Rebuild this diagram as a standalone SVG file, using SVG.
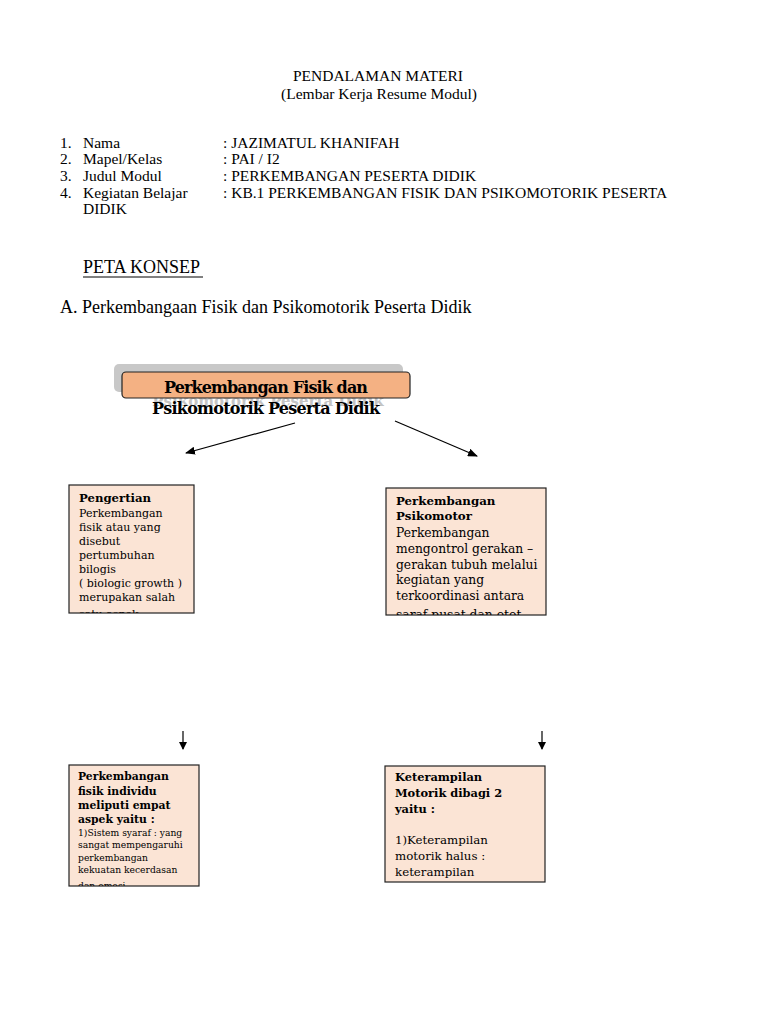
<svg xmlns="http://www.w3.org/2000/svg" width="768" height="1024" viewBox="0 0 768 1024">
<style>
.t{font-family:"Liberation Serif","Times New Roman",serif;font-size:15.5px;fill:#000}
.h{font-family:"Liberation Serif","Times New Roman",serif;font-size:18px;fill:#000}
.c{font-family:"DejaVu Serif","Liberation Serif",serif;fill:#000}
.b{font-weight:bold}
.box{fill:#FBE4D5;stroke:#222;stroke-width:1.2}
.ln{stroke:#000;stroke-width:1.2;fill:none}
</style>
<defs>
<marker id="ah" markerWidth="10" markerHeight="8" refX="9" refY="4" orient="auto" markerUnits="userSpaceOnUse">
<path d="M0,0 L10,4 L0,8 Z" fill="#000"/>
</marker>
<marker id="ahd" markerWidth="8" markerHeight="9" refX="7" refY="4" orient="auto" markerUnits="userSpaceOnUse">
<path d="M0,0 L8,4 L0,8 Z" fill="#000"/>
</marker>
<clipPath id="c1"><rect x="69" y="485" width="125" height="128"/></clipPath>
<clipPath id="c2"><rect x="386" y="488" width="160" height="127"/></clipPath>
<clipPath id="c3"><rect x="69" y="765" width="130" height="121"/></clipPath>
<clipPath id="c4"><rect x="385" y="766" width="160" height="116"/></clipPath>
</defs>
<rect width="768" height="1024" fill="#fff"/>
<g id="header">
<text class="t" x="378" y="81" text-anchor="middle">PENDALAMAN MATERI</text>
<text class="t" x="379" y="99" text-anchor="middle">(Lembar Kerja Resume Modul)</text>
<text class="t" x="60" y="148">1.</text><text class="t" x="83" y="148">Nama</text><text class="t" x="223" y="148">: JAZIMATUL KHANIFAH</text>
<text class="t" x="60" y="164">2.</text><text class="t" x="83" y="164">Mapel/Kelas</text><text class="t" x="223" y="164">: PAI / I2</text>
<text class="t" x="60" y="181">3.</text><text class="t" x="83" y="181">Judul Modul</text><text class="t" x="223" y="181">: PERKEMBANGAN PESERTA DIDIK</text>
<text class="t" x="60" y="198">4.</text><text class="t" x="83" y="198">Kegiatan Belajar</text><text class="t" x="223" y="198">: KB.1 PERKEMBANGAN FISIK DAN PSIKOMOTORIK PESERTA</text>
<text class="t" x="83" y="214">DIDIK</text>
<text class="h" x="83" y="273">PETA KONSEP</text>
<line x1="83" y1="277" x2="203" y2="277" stroke="#000" stroke-width="1"/>
<text class="h" x="60" y="313">A. Perkembangaan Fisik dan Psikomotorik Peserta Didik</text>
</g>
<g id="root">
<rect x="114" y="364" width="289" height="28" rx="5" fill="#c8c8c8"/>
<text class="c b" x="268" y="406" font-size="15" text-anchor="middle" style="fill:#c4c4c4">Psikomotorik Peserta Didik</text>
<rect x="122" y="372" width="288" height="26" rx="4" fill="#F4B183" stroke="#222" stroke-width="1.2"/>
<text class="c b" x="266" y="393" font-size="16" text-anchor="middle" textLength="204">Perkembangan Fisik dan</text>
<text class="c b" x="266" y="414" font-size="16" text-anchor="middle" textLength="228">Psikomotorik Peserta Didik</text>
</g>
<g id="connectors">
<line class="ln" x1="295" y1="423" x2="186" y2="453" marker-end="url(#ah)"/>
<line class="ln" x1="395" y1="421" x2="477" y2="456" marker-end="url(#ah)"/>
<line class="ln" x1="183" y1="731" x2="183" y2="749" stroke-width="2.2" marker-end="url(#ahd)"/>
<line class="ln" x1="542" y1="731" x2="542" y2="749" stroke-width="2.2" marker-end="url(#ahd)"/>
</g>
<g id="n1">
<rect class="box" x="69" y="485" width="125" height="128"/>
<g clip-path="url(#c1)" class="c" font-size="11">
<text x="79" y="502" class="c b" font-size="11.7">Pengertian</text>
<text x="79" y="517">Perkembangan</text>
<text x="79" y="531">fisik atau yang</text>
<text x="79" y="545">disebut</text>
<text x="79" y="559">pertumbuhan</text>
<text x="79" y="573">bilogis</text>
<text x="79" y="587">( biologic growth )</text>
<text x="79" y="601">merupakan salah</text>
<text x="79" y="618">satu aspek</text>
</g>
</g>
<g id="n2">
<rect class="box" x="386" y="488" width="160" height="127"/>
<g clip-path="url(#c2)" class="c" font-size="12.3">
<text x="396" y="505" class="c b" font-size="11.8">Perkembangan</text>
<text x="396" y="520" class="c b" font-size="11.8">Psikomotor</text>
<text x="396" y="537">Perkembangan</text>
<text x="396" y="553">mengontrol gerakan –</text>
<text x="396" y="569">gerakan tubuh melalui</text>
<text x="396" y="584">kegiatan yang</text>
<text x="396" y="600">terkoordinasi antara</text>
<text x="396" y="619">saraf pusat dan otot</text>
</g>
</g>
<g id="n3">
<rect class="box" x="69" y="765" width="130" height="121"/>
<g clip-path="url(#c3)" class="c" font-size="9.2">
<text x="78" y="780" class="c b" font-size="10.8">Perkembangan</text>
<text x="78" y="795" class="c b" font-size="10.8">fisik individu</text>
<text x="78" y="809" class="c b" font-size="10.8">meliputi empat</text>
<text x="78" y="823" class="c b" font-size="10.8">aspek yaitu :</text>
<text x="78" y="836">1)Sistem syaraf : yang</text>
<text x="78" y="848">sangat mempengaruhi</text>
<text x="78" y="861">perkembangan</text>
<text x="78" y="873">kekuatan kecerdasan</text>
<text x="78" y="889">dan emosi</text>
</g>
</g>
<g id="n4">
<rect class="box" x="385" y="766" width="160" height="116"/>
<g clip-path="url(#c4)" class="c" font-size="11.8">
<text x="395" y="781" class="c b" font-size="11.4">Keterampilan</text>
<text x="395" y="797" class="c b" font-size="11.4">Motorik dibagi 2</text>
<text x="395" y="813" class="c b" font-size="11.4">yaitu :</text>
<text x="395" y="844">1)Keterampilan</text>
<text x="395" y="860">motorik halus :</text>
<text x="395" y="876">keterampilan</text>
</g>
</g>
</svg>
